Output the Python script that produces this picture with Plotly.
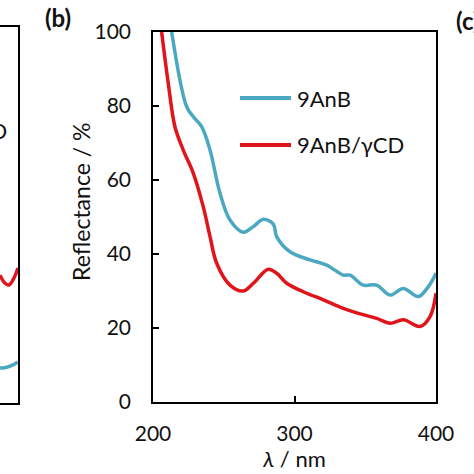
import plotly.graph_objects as go

# Panel (b) data
wl_9anb = [213.2, 223.8, 228.5, 234.4, 240.3, 247.3, 254.4, 263.8, 270.9, 278.0, 285.0, 287.4,
           296.8, 311.0, 322.7, 334.5, 339.2, 348.6, 358.1, 367.5, 376.9, 387.5, 394.6, 400.0]
r_9anb = [100, 79.8, 77.1, 74.4, 68.1, 56.5, 49.2, 45.9, 47.4, 49.4, 48.1, 44.7,
          40.6, 38.4, 37.0, 34.3, 34.3, 31.6, 31.6, 28.9, 30.7, 28.5, 31.2, 34.8]

wl_cd = [206.1, 210.8, 215.5, 221.4, 228.5, 235.5, 240.3, 245.0, 254.4, 263.8, 270.9, 281.5,
         287.4, 294.5, 306.2, 320.4, 334.5, 344.0, 358.1, 367.5, 376.9, 388.7, 395.8, 400.0]
r_cd = [100, 86.1, 74.4, 68.1, 61.8, 52.8, 44.7, 37.5, 31.6, 30.0, 32.1, 35.9,
        34.8, 32.1, 29.8, 27.6, 25.3, 24.1, 22.6, 21.3, 22.2, 20.4, 23.1, 29.4]

# Panel (a) visible fragment (right end)
wl_a = [390.0, 392.5, 395.0, 397.5, 400.0]
r_a_9anb = [9.3, 9.4, 9.7, 10.2, 10.9]
r_a_cd = [34.0, 32.0, 31.4, 33.0, 35.9]

x_ticks = [200, 300, 400]
y_ticks = [0, 20, 40, 60, 80, 100]

BLUE = "#4BA8C2"
RED = "#E0141B"
FONT = "Lato"
W = 474.0

fig = go.Figure()
fig.add_trace(go.Scatter(x=wl_9anb, y=r_9anb, mode="lines", line=dict(color=BLUE, width=3.5, shape="spline"),
                         xaxis="x", yaxis="y", showlegend=False, cliponaxis=True))
fig.add_trace(go.Scatter(x=wl_cd, y=r_cd, mode="lines", line=dict(color=RED, width=3.5, shape="spline"),
                         xaxis="x", yaxis="y", showlegend=False, cliponaxis=True))
fig.add_trace(go.Scatter(x=wl_a, y=r_a_9anb, mode="lines", line=dict(color=BLUE, width=3.5, shape="spline"),
                         xaxis="x2", yaxis="y2", showlegend=False))
fig.add_trace(go.Scatter(x=wl_a, y=r_a_cd, mode="lines", line=dict(color=RED, width=3.5, shape="spline"),
                         xaxis="x2", yaxis="y2", showlegend=False))

axis_common = dict(showline=True, linecolor="black", linewidth=1.5, mirror=True, showgrid=False,
                   zeroline=False, ticks="inside", ticklen=6, tickcolor="black", tickwidth=1.5,
                   tickfont=dict(family=FONT, size=21, color="#111"), automargin=False)

fig.update_layout(
    width=474, height=474,
    margin=dict(l=0, r=0, t=0, b=0),
    paper_bgcolor="white", plot_bgcolor="white",
    font=dict(family=FONT, size=21, color="#111"),
    xaxis=dict(domain=[153 / W, 436 / W], range=[200, 400], tickvals=x_ticks,
               ticklabelstandoff=12,
               title=dict(text="<i>λ</i> / nm", font=dict(family=FONT, size=22), standoff=2),
               anchor="y", **axis_common),
    yaxis=dict(domain=[1 - 402 / W, 1 - 32 / W], range=[0, 100], tickvals=y_ticks,
               ticklabelstandoff=16, anchor="x", **axis_common),
    xaxis2=dict(domain=[0, 18 / W], range=[390, 400], tickvals=[400], ticklabelstandoff=12,
                anchor="y2", **axis_common),
    yaxis2=dict(domain=[1 - 403 / W, 1 - 27 / W], range=[0, 100], tickvals=[], anchor="x2",
                **axis_common),
    showlegend=False,
)

# Y-axis title
fig.add_annotation(text="Reflectance / %", xref="paper", yref="paper", x=81 / W, y=1 - 202 / W,
                   xanchor="center", yanchor="middle", textangle=-90, showarrow=False,
                   font=dict(family=FONT, size=23, color="#111"))

# Legend (drawn manually)
fig.add_shape(type="line", xref="paper", yref="paper", x0=240 / W, x1=291 / W,
              y0=1 - 98 / W, y1=1 - 98 / W, line=dict(color=BLUE, width=4))
fig.add_shape(type="line", xref="paper", yref="paper", x0=240 / W, x1=291 / W,
              y0=1 - 145 / W, y1=1 - 145 / W, line=dict(color=RED, width=4))
fig.add_annotation(text="9AnB", xref="paper", yref="paper", x=295 / W, y=1 - 98 / W,
                   xanchor="left", yanchor="middle", showarrow=False,
                   font=dict(family=FONT, size=22, color="#111"))
fig.add_annotation(text="9AnB/γCD", xref="paper", yref="paper", x=295 / W, y=1 - 145 / W,
                   xanchor="left", yanchor="middle", showarrow=False,
                   font=dict(family=FONT, size=22, color="#111"))

# Panel labels and fragments of neighbouring panels
fig.add_annotation(text="<b>(b)</b>", xref="paper", yref="paper", x=43 / W, y=1 - 18 / W,
                   xanchor="left", yanchor="middle", showarrow=False,
                   font=dict(family=FONT, size=24, color="#111"))
fig.add_annotation(text="<b>(c)</b>", xref="paper", yref="paper", x=454 / W, y=1 - 20 / W,
                   xanchor="left", yanchor="middle", showarrow=False,
                   font=dict(family=FONT, size=24, color="#111"))
fig.add_annotation(text="9AnB/γCD", xref="paper", yref="paper", x=9 / W, y=1 - 130 / W,
                   xanchor="right", yanchor="middle", showarrow=False,
                   font=dict(family=FONT, size=22, color="#111"))

fig.write_html("out.html")
